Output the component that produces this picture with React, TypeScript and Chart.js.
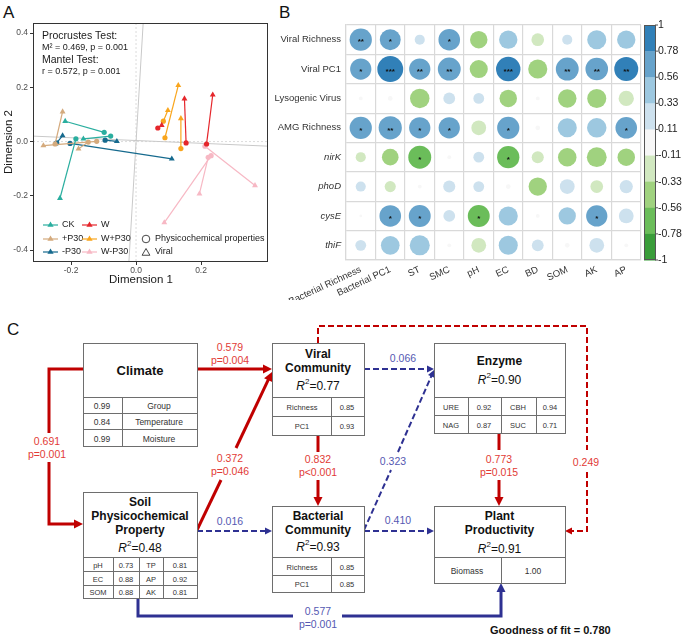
import React, { useEffect, useRef } from "react";
import { Chart, registerables } from "chart.js";

Chart.register(...registerables);

const FONT = "'Liberation Sans', Arial, Helvetica, sans-serif";

// ---------------- Panel A data ----------------
const groupNames = ["CK", "+P30", "-P30", "W", "W+P30", "W-P30"];
const groupColors = ["#2AAE9F", "#D4AA7D", "#166A8E", "#E5262B", "#F9A51C", "#F7B8C4"];
// each replicate: [physX, physY, viralX, viralY]
const ckReps = [[-0.098, 0.034, -0.218, 0.075], [-0.078, 0.020, -0.162, 0.010], [-0.185, 0.010, -0.234, -0.209]];
const p30Reps = [[-0.121, 0.001, -0.285, -0.015], [-0.147, -0.002, -0.177, -0.027], [-0.249, -0.009, -0.226, 0.110]];
const m30Reps = [[-0.244, -0.005, -0.226, 0.022], [-0.095, 0.005, -0.059, 0.001], [-0.203, -0.007, 0.110, -0.064]];
const wReps = [[0.154, -0.005, 0.149, 0.158], [0.217, -0.009, 0.236, 0.172], [0.067, 0.050, 0.079, 0.060]];
const wp30Reps = [[0.089, 0.014, 0.130, 0.207], [0.138, -0.026, 0.138, 0.085], [0.084, 0.075, 0.098, 0.115]];
const wm30Reps = [[0.222, -0.058, 0.195, -0.193], [0.231, -0.052, 0.087, -0.299], [0.212, -0.017, 0.366, -0.162]];
const allReps = [ckReps, p30Reps, m30Reps, wReps, wp30Reps, wm30Reps];

const rotAxis1X = [-0.317, 0.406];
const rotAxis1Y = [0.020, -0.017];
const rotAxis2X = [0.022, -0.022];
const rotAxis2Y = [0.437, -0.444];
const aXRange = [-0.317, 0.406];
const aYRange = [-0.444, 0.437];
const aXTicks = [-0.2, 0, 0.2];
const aYTicks = [-0.4, -0.2, 0, 0.2, 0.4];

// ---------------- Panel B data ----------------
const bCols = ["Bacterial Richness", "Bacterial PC1", "ST", "SMC", "pH", "EC", "BD", "SOM", "AK", "AP"];
const bRows = ["Viral Richness", "Viral PC1", "Lysogenic Virus", "AMG Richness", "nirK", "phoD", "cysE", "thiF"];
const italicRows = ["nirK", "phoD", "cysE", "thiF"];
const rViralRichness = [0.68, 0.60, 0.14, 0.64, -0.42, 0.46, -0.22, 0.14, 0.50, 0.46];
const rViralPC1 = [0.62, 0.92, 0.62, 0.72, -0.45, 0.82, -0.50, 0.72, 0.70, 0.79];
const rLysogenic = [0.02, 0.03, -0.52, 0.19, 0.16, -0.42, 0.02, -0.47, -0.50, -0.32];
const rAMG = [0.68, 0.74, 0.62, 0.62, -0.30, 0.68, 0.03, 0.50, 0.52, 0.64];
const rNirK = [-0.14, -0.38, -0.72, -0.02, 0.16, -0.68, -0.20, -0.47, -0.54, -0.42];
const rPhoD = [0.14, -0.17, -0.02, 0.20, 0.16, 0.03, -0.46, 0.30, -0.22, 0.24];
const rCysE = [0.01, 0.64, 0.66, 0.19, -0.66, 0.50, 0.02, 0.41, 0.62, 0.30];
const rThiF = [0.16, 0.48, 0.55, 0.02, -0.30, 0.50, 0.19, 0.03, 0.30, 0.02];
const corrRows = [rViralRichness, rViralPC1, rLysogenic, rAMG, rNirK, rPhoD, rCysE, rThiF];
const sigViralRichness = ["**", "*", "", "*", "", "", "", "", "", ""];
const sigViralPC1 = ["*", "***", "**", "**", "", "***", "", "**", "**", "**"];
const sigLysogenic = ["", "", "", "", "", "", "", "", "", ""];
const sigAMG = ["*", "**", "*", "*", "", "*", "", "", "", "*"];
const sigNirK = ["", "", "*", "", "", "*", "", "", "", ""];
const sigPhoD = ["", "", "", "", "", "", "", "", "", ""];
const sigCysE = ["", "*", "*", "", "*", "", "", "", "*", ""];
const sigThiF = ["", "", "", "", "", "", "", "", "", ""];
const sigRows = [sigViralRichness, sigViralPC1, sigLysogenic, sigAMG, sigNirK, sigPhoD, sigCysE, sigThiF];
const cbTicks = [1, 0.78, 0.56, 0.33, 0.11, -0.11, -0.33, -0.56, -0.78, -1];
const cbTickLabels = ["1", "0.78", "0.56", "0.33", "0.11", "-0.11", "-0.33", "-0.56", "-0.78", "-1"];
const cbColors = ["#3180B8", "#67A3CB", "#9DC8E0", "#CDE1EE", "#F7F7F7", "#D1E8C0", "#A0D27F", "#6BBD5A", "#3A9D3A"];

function colorFor(v: number) {
  for (let i = 0; i < cbColors.length; i++) {
    if (v >= cbTicks[i + 1]) return cbColors[i];
  }
  return cbColors[cbColors.length - 1];
}

function triPath(ctx: CanvasRenderingContext2D, x: number, y: number, r: number) {
  ctx.beginPath();
  ctx.moveTo(x, y - r);
  ctx.lineTo(x + r * 0.866, y + r * 0.5);
  ctx.lineTo(x - r * 0.866, y + r * 0.5);
  ctx.closePath();
}

const plugA = {
  id: "plugA",
  beforeDatasetsDraw(chart: any) {
    const { ctx, chartArea: ca, scales } = chart;
    const x0 = scales.x.getPixelForValue(0);
    const y0 = scales.y.getPixelForValue(0);
    ctx.save();
    ctx.strokeStyle = "#D3D3D3";
    ctx.lineWidth = 0.8;
    ctx.setLineDash([2, 2]);
    ctx.beginPath();
    ctx.moveTo(ca.left, y0);
    ctx.lineTo(ca.right, y0);
    ctx.moveTo(x0, ca.top);
    ctx.lineTo(x0, ca.bottom);
    ctx.stroke();
    ctx.restore();
  },
  afterDraw(chart: any) {
    const { ctx, chartArea: ca } = chart;
    ctx.save();
    ctx.strokeStyle = "#333";
    ctx.lineWidth = 1;
    ctx.strokeRect(ca.left + 0.5, ca.top + 0.5, ca.right - ca.left - 1, ca.bottom - ca.top - 1);
    ctx.fillStyle = "#1A1A1A";
    ctx.textBaseline = "middle";
    ctx.textAlign = "left";
    ctx.font = `10.5px ${FONT}`;
    ctx.fillText("Procrustes Test:", 42, 36);
    ctx.fillText("Mantel Test:", 42, 60);
    ctx.font = `9px ${FONT}`;
    ctx.fillText("M² = 0.469, p = 0.001", 42, 48);
    ctx.fillText("r = 0.572, p = 0.001", 42, 72);
    // legend
    const rowsY = [225, 239, 252];
    ctx.font = `9px ${FONT}`;
    groupNames.forEach((g, i) => {
      const col = Math.floor(i / 3);
      const y = rowsY[i % 3];
      const x1 = col === 0 ? 43 : 82;
      ctx.strokeStyle = groupColors[i];
      ctx.lineWidth = 1.2;
      ctx.beginPath();
      ctx.moveTo(x1, y);
      ctx.lineTo(x1 + 15, y);
      ctx.stroke();
      ctx.fillStyle = groupColors[i];
      triPath(ctx, x1 + 7.5, y, 3.6);
      ctx.fill();
      ctx.fillStyle = "#1A1A1A";
      ctx.fillText(g, x1 + 19, y);
    });
    ctx.strokeStyle = "#333";
    ctx.lineWidth = 0.9;
    ctx.beginPath();
    ctx.arc(146, 239, 3.8, 0, Math.PI * 2);
    ctx.stroke();
    triPath(ctx, 146, 253, 4.5);
    ctx.stroke();
    ctx.fillStyle = "#1A1A1A";
    ctx.fillText("Physicochemical properties", 155, 239);
    ctx.fillText("Viral", 155, 252);
    // axis titles
    ctx.font = `11.5px ${FONT}`;
    ctx.textAlign = "center";
    ctx.fillText("Dimension 1", 141, 280);
    ctx.translate(9, 142);
    ctx.rotate(-Math.PI / 2);
    ctx.fillText("Dimension 2", 0, 0);
    ctx.restore();
  },
};

function configA(): any {
  const datasets: any[] = [];
  datasets.push({
    data: rotAxis1X.map((x, i) => ({ x, y: rotAxis1Y[i] })),
    showLine: true, borderColor: "#C9C9C9", borderWidth: 1, pointRadius: 0, order: 10,
  });
  datasets.push({
    data: rotAxis2X.map((x, i) => ({ x, y: rotAxis2Y[i] })),
    showLine: true, borderColor: "#C9C9C9", borderWidth: 1, pointRadius: 0, order: 10,
  });
  allReps.forEach((reps, g) => {
    reps.forEach((r) => {
      datasets.push({
        data: [{ x: r[0], y: r[1] }, { x: r[2], y: r[3] }],
        showLine: true,
        borderColor: groupColors[g],
        backgroundColor: groupColors[g],
        pointBackgroundColor: groupColors[g],
        pointBorderColor: groupColors[g],
        borderWidth: 1.2,
        pointStyle: ["circle", "triangle"],
        pointRadius: [2.6, 3.4],
        pointBorderWidth: 0,
        order: 1,
      });
    });
  });
  const tickFont = { size: 8.5, family: FONT };
  return {
    type: "scatter",
    data: { datasets },
    plugins: [plugA],
    options: {
      animation: false,
      responsive: false,
      events: [],
      layout: { padding: { top: 23, right: 4, left: 0, bottom: 0 } },
      plugins: { legend: { display: false }, tooltip: { enabled: false } },
      scales: {
        x: {
          type: "linear",
          min: aXRange[0],
          max: aXRange[1],
          afterBuildTicks: (s: any) => { s.ticks = aXTicks.map((v) => ({ value: v })); },
          afterFit: (s: any) => { s.height = 38; s.paddingLeft = 0; s.paddingRight = 0; },
          ticks: { font: tickFont, color: "#4D4D4D", padding: 1, callback: (v: any) => Number(v).toFixed(1) },
          grid: { display: true, drawOnChartArea: false, drawTicks: true, tickLength: 3, color: "#333" },
          border: { display: false },
        },
        y: {
          type: "linear",
          min: aYRange[0],
          max: aYRange[1],
          afterBuildTicks: (s: any) => { s.ticks = aYTicks.map((v) => ({ value: v })); },
          afterFit: (s: any) => { s.width = 33; s.paddingTop = 0; s.paddingBottom = 0; },
          ticks: { font: tickFont, color: "#4D4D4D", padding: 2, callback: (v: any) => Number(v).toFixed(1) },
          grid: { display: true, drawOnChartArea: false, drawTicks: true, tickLength: 3, color: "#333" },
          border: { display: false },
        },
      },
    },
  };
}

const plugB = {
  id: "plugB",
  afterDatasetsDraw(chart: any) {
    const { ctx } = chart;
    const meta = chart.getDatasetMeta(0);
    ctx.save();
    ctx.fillStyle = "#111";
    ctx.font = `bold 8px ${FONT}`;
    ctx.textAlign = "center";
    ctx.textBaseline = "middle";
    meta.data.forEach((el: any, i: number) => {
      const raw = chart.data.datasets[0].data[i];
      if (raw.s) ctx.fillText(raw.s, el.x, el.y + 2.5);
    });
    ctx.restore();
  },
  afterDraw(chart: any) {
    const { ctx, chartArea: ca } = chart;
    const x0 = ca.right + 3;
    const w = 12;
    const top = ca.top;
    const h = (ca.bottom - ca.top) / (cbTicks.length - 1);
    ctx.save();
    cbColors.forEach((c, i) => {
      ctx.fillStyle = c;
      ctx.fillRect(x0, top + i * h, w, h + 0.5);
    });
    ctx.strokeStyle = "#555";
    ctx.lineWidth = 1;
    ctx.strokeRect(x0 + 0.5, top + 0.5, w - 1, ca.bottom - ca.top - 1);
    ctx.fillStyle = "#222";
    ctx.font = `10.5px ${FONT}`;
    ctx.textAlign = "left";
    ctx.textBaseline = "middle";
    cbTickLabels.forEach((t, i) => {
      const y = top + i * h;
      ctx.beginPath();
      ctx.moveTo(x0 + w - 1, y);
      ctx.lineTo(x0 + w + 2, y);
      ctx.stroke();
      ctx.fillText(t, x0 + w + 2, y);
    });
    ctx.restore();
  },
};

function configB(): any {
  const data: any[] = [];
  bRows.forEach((row, i) => {
    bCols.forEach((col, j) => {
      const v = corrRows[i][j];
      data.push({ x: col, y: row, r: 13.5 * Math.sqrt(Math.abs(v)), v, s: sigRows[i][j] });
    });
  });
  return {
    type: "bubble",
    data: {
      datasets: [{
        data,
        backgroundColor: (c: any) => colorFor(c.raw ? c.raw.v : 0),
        borderWidth: 0,
      }],
    },
    plugins: [plugB],
    options: {
      animation: false,
      responsive: false,
      events: [],
      layout: { padding: { top: 25, right: 44, left: 0, bottom: 0 } },
      plugins: { legend: { display: false }, tooltip: { enabled: false } },
      scales: {
        x: {
          type: "category",
          labels: bCols,
          offset: true,
          afterFit: (s: any) => { s.height = 40; s.paddingLeft = 0; s.paddingRight = 0; },
          ticks: { minRotation: 25, maxRotation: 25, autoSkip: false, padding: 4, color: "#333", font: { size: 9.5, family: FONT } },
          grid: { offset: true, color: "#D9D9D9", lineWidth: 1.2, drawTicks: false },
          border: { display: true, color: "#D9D9D9", width: 1.2 },
        },
        y: {
          type: "category",
          labels: bRows,
          offset: true,
          afterFit: (s: any) => { s.width = 74; s.paddingTop = 0; s.paddingBottom = 0; },
          ticks: {
            autoSkip: false, padding: 5, color: "#333",
            font: (c: any) => ({ size: 9.5, family: FONT, style: italicRows.includes(bRows[c.index]) ? "italic" : "normal" }),
          },
          grid: { offset: true, color: "#D9D9D9", lineWidth: 1.2, drawTicks: false },
          border: { display: true, color: "#D9D9D9", width: 1.2 },
        },
      },
    },
  };
}

// ---------------- Panel C (path diagram) ----------------
const RED = "#C00000";
const RED_T = "#E23B36";
const BLUE = "#2E3192";
const BLUE_T = "#5559B2";

function Seg({ pts, color, width, dash, arrow, hl = 9, hw = 9 }: any) {
  const p = pts.map((q: number[]) => [...q]);
  let head = null;
  if (arrow) {
    const n = p.length;
    const [x1, y1] = p[n - 2];
    const [x2, y2] = p[n - 1];
    const ang = Math.atan2(y2 - y1, x2 - x1);
    p[n - 1] = [x2 - Math.cos(ang) * (hl - 1), y2 - Math.sin(ang) * (hl - 1)];
    head = (
      <polygon
        points={`0,0 ${-hl},${-hw / 2} ${-hl},${hw / 2}`}
        fill={color}
        transform={`translate(${x2},${y2}) rotate(${(ang * 180) / Math.PI})`}
      />
    );
  }
  return (
    <g>
      <polyline
        points={p.map((q: number[]) => q.join(",")).join(" ")}
        fill="none"
        stroke={color}
        strokeWidth={width}
        strokeDasharray={dash}
        strokeLinejoin="miter"
      />
      {head}
    </g>
  );
}

function Lbl({ x, y, t, c }: any) {
  return (
    <text x={x} y={y} fill={c} fontSize={10.5} textAnchor="middle" dominantBaseline="central">{t}</text>
  );
}

function R2({ x, y, v }: any) {
  return (
    <text x={x} y={y} fontSize={12} textAnchor="middle" dominantBaseline="central" fill="#111">
      <tspan fontStyle="italic">R</tspan>
      <tspan fontSize={8} dy={-5}>2</tspan>
      <tspan dy={5}>{"=" + v}</tspan>
    </text>
  );
}

function Box({ x0, x1, y0, y1, rowYs, colXs, cells, centers, fs, titles, r2 }: any) {
  return (
    <g>
      <rect x={x0 + 0.5} y={y0 + 0.5} width={x1 - x0} height={y1 - y0} fill="#fff" stroke="#6E6E6E" strokeWidth={1} />
      {rowYs.map((ry: number, i: number) => (
        <line key={"r" + i} x1={x0} x2={x1} y1={ry + 0.5} y2={ry + 0.5} stroke="#6E6E6E" strokeWidth={1} />
      ))}
      {colXs.map((cx: number, i: number) => (
        <line key={"c" + i} x1={cx + 0.5} x2={cx + 0.5} y1={rowYs[0]} y2={y1} stroke="#6E6E6E" strokeWidth={1} />
      ))}
      {cells.map((row: string[], i: number) =>
        row.map((t, j) => (
          <text key={i + "-" + j} x={centers[j]} y={(rowYs[i] + (rowYs[i + 1] ?? y1)) / 2 + 1} fontSize={fs}
            textAnchor="middle" dominantBaseline="central" fill="#333">{t}</text>
        ))
      )}
      {titles.map((t: any, i: number) => (
        <text key={"t" + i} x={(x0 + x1) / 2} y={t[1]} fontSize={t[2]} fontWeight="bold" textAnchor="middle"
          dominantBaseline="central" fill="#111">{t[0]}</text>
      ))}
      {r2 ? <R2 x={(x0 + x1) / 2} y={r2[1]} v={r2[0]} /> : null}
    </g>
  );
}

function PanelC() {
  return (
    <g>
      {/* red solid paths */}
      <Seg pts={[[197, 369], [272, 369]]} color={RED} width={3} arrow />
      <Seg pts={[[83, 369], [49, 369], [49, 433]]} color={RED} width={3} />
      <Seg pts={[[49, 462], [49, 524], [83, 524]]} color={RED} width={3} arrow />
      <Seg pts={[[197, 530], [221, 480]]} color={RED} width={3} />
      <Seg pts={[[236, 448], [272, 372]]} color={RED} width={3} arrow />
      <Seg pts={[[318, 435], [318, 452]]} color={RED} width={3} />
      <Seg pts={[[318, 480], [318, 506]]} color={RED} width={3} arrow />
      <Seg pts={[[499, 433], [499, 450]]} color={RED} width={3} />
      <Seg pts={[[499, 480], [499, 506]]} color={RED} width={3} arrow />
      {/* red dashed */}
      <Seg pts={[[318, 343], [318, 326], [587, 326], [587, 450]]} color={RED} width={2} dash="6 3" />
      <Seg pts={[[587, 472], [587, 531], [565, 531]]} color={RED} width={2} dash="6 3" arrow hl={7} hw={7} />
      {/* blue dashed */}
      <Seg pts={[[364, 369], [434, 369]]} color={BLUE} width={2} dash="6 3" arrow hl={7} hw={7} />
      <Seg pts={[[197, 531], [272, 531]]} color={BLUE} width={2} dash="6 3" arrow hl={7} hw={7} />
      <Seg pts={[[364, 530], [391, 470]]} color={BLUE} width={2} dash="6 3" />
      <Seg pts={[[398, 452], [434, 370]]} color={BLUE} width={2} dash="6 3" arrow hl={7} hw={7} />
      <Seg pts={[[364, 531], [434, 531]]} color={BLUE} width={2} dash="6 3" arrow hl={7} hw={7} />
      {/* blue solid */}
      <Seg pts={[[138, 598], [138, 616], [293, 616]]} color={BLUE} width={3} />
      <Seg pts={[[342, 616], [501, 616], [501, 583]]} color={BLUE} width={3} arrow />

      {/* labels */}
      <Lbl x={230} y={347} t="0.579" c={RED_T} />
      <Lbl x={230} y={360} t="p=0.004" c={RED_T} />
      <Lbl x={47} y={441} t="0.691" c={RED_T} />
      <Lbl x={47} y={454} t="p=0.001" c={RED_T} />
      <Lbl x={230} y={458} t="0.372" c={RED_T} />
      <Lbl x={230} y={471} t="p=0.046" c={RED_T} />
      <Lbl x={318} y={459} t="0.832" c={RED_T} />
      <Lbl x={318} y={472} t="p<0.001" c={RED_T} />
      <Lbl x={499} y={459} t="0.773" c={RED_T} />
      <Lbl x={499} y={472} t="p=0.015" c={RED_T} />
      <Lbl x={586} y={462} t="0.249" c={RED_T} />
      <Lbl x={403} y={358} t="0.066" c={BLUE_T} />
      <Lbl x={230} y={521} t="0.016" c={BLUE_T} />
      <Lbl x={393} y={461} t="0.323" c={BLUE_T} />
      <Lbl x={398} y={520} t="0.410" c={BLUE_T} />
      <Lbl x={318} y={611} t="0.577" c={BLUE_T} />
      <Lbl x={318} y={624} t="p=0.001" c={BLUE_T} />

      {/* boxes */}
      <Box x0={83} x1={197} y0={343} y1={446} rowYs={[397, 413, 429]} colXs={[122]}
        cells={[["0.99", "Group"], ["0.84", "Temperature"], ["0.99", "Moisture"]]} centers={[102, 159]} fs={8.5}
        titles={[["Climate", 370, 13]]} />
      <Box x0={272} x1={364} y0={343} y1={435} rowYs={[397, 416]} colXs={[331]}
        cells={[["Richness", "0.85"], ["PC1", "0.93"]]} centers={[302, 347]} fs={7.5}
        titles={[["Viral", 354, 12], ["Community", 368, 12]]} r2={["0.77", 386]} />
      <Box x0={434} x1={565} y0={343} y1={433} rowYs={[397, 415]} colXs={[468, 501, 536]}
        cells={[["URE", "0.92", "CBH", "0.94"], ["NAG", "0.87", "SUC", "0.71"]]} centers={[451, 484, 518, 550]} fs={7.5}
        titles={[["Enzyme", 361, 12]]} r2={["0.90", 380]} />
      <Box x0={83} x1={197} y0={492} y1={598} rowYs={[557, 571, 585]} colXs={[113, 139, 163]}
        cells={[["pH", "0.73", "TP", "0.81"], ["EC", "0.88", "AP", "0.92"], ["SOM", "0.88", "AK", "0.81"]]}
        centers={[98, 126, 151, 180]} fs={7.5}
        titles={[["Soil", 502, 12], ["Physicochemical", 516, 12], ["Property", 530, 12]]} r2={["0.48", 548]} />
      <Box x0={272} x1={364} y0={506} y1={592} rowYs={[557, 575]} colXs={[331]}
        cells={[["Richness", "0.85"], ["PC1", "0.85"]]} centers={[302, 347]} fs={7.5}
        titles={[["Bacterial", 516, 12], ["Community", 530, 12]]} r2={["0.93", 547]} />
      <Box x0={434} x1={565} y0={506} y1={583} rowYs={[557]} colXs={[501]}
        cells={[["Biomass", "1.00"]]} centers={[467, 533]} fs={8.5}
        titles={[["Plant", 516, 12], ["Productivity", 530, 12]]} r2={["0.91", 549]} />

      <text x={490} y={630} fontSize={11} fontWeight="bold" fill="#111" dominantBaseline="central">Goodness of fit = 0.780</text>
    </g>
  );
}

export default function App() {
  const aRef = useRef<HTMLCanvasElement>(null);
  const bRef = useRef<HTMLCanvasElement>(null);
  useEffect(() => {
    const ca = new Chart(aRef.current as HTMLCanvasElement, configA());
    const cb = new Chart(bRef.current as HTMLCanvasElement, configB());
    return () => {
      ca.destroy();
      cb.destroy();
    };
  }, []);
  return (
    <div style={{ position: "absolute", left: 0, top: 0, width: 685, height: 635, background: "#fff", fontFamily: FONT }}>
      <svg width={685} height={635} style={{ position: "absolute", left: 0, top: 0 }} fontFamily={FONT}>
        <text x={3} y={18} fontSize={17} fill="#111">A</text>
        <text x={279} y={18} fontSize={17} fill="#111">B</text>
        <text x={7} y={335} fontSize={17} fill="#111">C</text>
        <PanelC />
      </svg>
      <canvas ref={aRef} width={272} height={300} style={{ position: "absolute", left: 0, top: 0 }} />
      <canvas ref={bRef} width={413} height={300} style={{ position: "absolute", left: 272, top: 0 }} />
    </div>
  );
}
